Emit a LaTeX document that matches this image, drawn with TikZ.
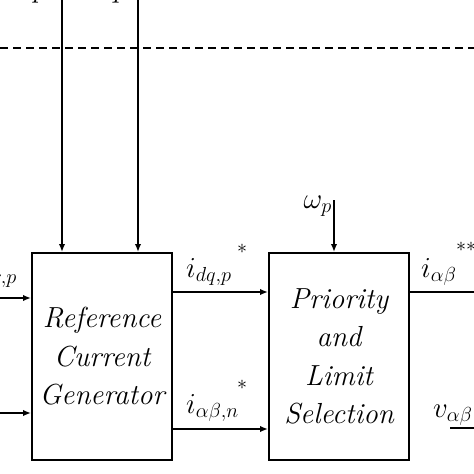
\documentclass[tikz,border=0pt]{standalone}
\usepackage{fix-cm}
\usetikzlibrary{arrows.meta}
\begin{document}
\begin{tikzpicture}[x=1pt,y=-1pt,
  blk/.style={draw, line width=2pt, inner sep=0pt, anchor=north west,
    minimum width=140pt, minimum height=207pt,
    font=\fontsize{29}{38.5}\selectfont\itshape, align=center},
  conn/.style={line width=1.6pt, -{Latex[length=8pt,width=6.5pt]}},
  wire/.style={line width=1.6pt},
  lbl/.style={font=\fontsize{29}{35}\selectfont, inner sep=0pt},
  star/.style={font=\fontsize{20}{24}\selectfont, inner sep=0pt}]
\useasboundingbox (0,0) rectangle (474,474);
\clip (0,0) rectangle (474,474);

% boxes
\node[blk] (rcg) at (31,252) {Reference\\Current\\Generator};
\node[blk] (pls) at (268,252) {Priority\\and\\Limit\\Selection};

% dashed separator
\coordinate (d1) at (0,48);
\coordinate (d2) at (474,48);
\draw[line width=1.8pt, dash pattern=on 8pt off 5pt] (d1) -- (d2);

% top inputs (only their lowest parts are in view)
\node[lbl, anchor=base west] (pin) at (33,-3) {$p^{*}$};
\node[lbl, anchor=base west] (qin) at (108,-3) {$q^{*}$};
\coordinate (t1) at (62,0);
\coordinate (t2) at (138,0);
\draw[conn] (t1) -- (t1 |- rcg.north);
\draw[conn] (t2) -- (t2 |- rcg.north);

% left inputs
\node[lbl, anchor=base east] (lin) at (17,279) {$\theta_{r,p}$};
\coordinate (l1) at (0,298);
\coordinate (l2) at (0,413);
\draw[conn] (l1) -- (l1 -| rcg.west);
\draw[conn] (l2) -- (l2 -| rcg.west);

% between boxes
\coordinate (a1) at (200,292);
\coordinate (a2) at (200,429);
\draw[conn] (rcg.east |- a1) -- (pls.west |- a1);
\draw[conn] (rcg.east |- a2) -- (pls.west |- a2);
\node[lbl, anchor=base west] (idq) at (186,277) {$i_{dq,p}$};
\node[star] (s1) at (242,249) {$*$};
\node[lbl, anchor=base west] (ian) at (186,413) {$i_{\alpha\beta,n}$};
\node[star] (s2) at (242,385) {$*$};

% omega input
\coordinate (w) at (334,200);
\draw[conn] (w) -- (w |- pls.north);
\node[lbl, anchor=base east] (om) at (332,208) {$\omega_{p}$};

% output
\coordinate (o1) at (474,292);
\draw[wire] (pls.east |- o1) -- (o1);
\node[lbl, anchor=base west] (iab) at (421,277) {$i_{\alpha\beta}$};
\node[star] (s3) at (466,247) {$**$};

% v input line
\node[lbl, anchor=base west] (vab) at (433,417) {$v_{\alpha\beta}$};
\coordinate (v1) at (450,428);
\coordinate (v2) at (474,428);
\draw[wire] (v1) -- (v2);
\end{tikzpicture}
\end{document}
